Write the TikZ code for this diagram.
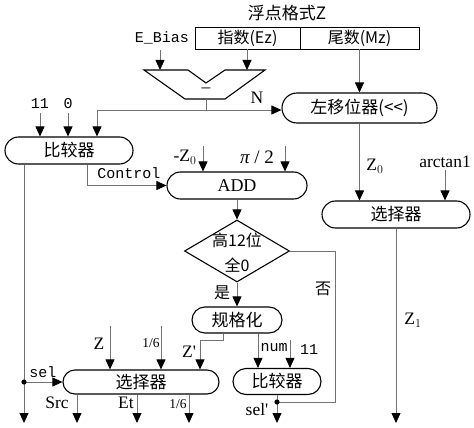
\documentclass[tikz,border=0pt]{standalone}
\usepackage{fontspec}
\setmainfont{Liberation Serif}
\newfontfamily\cjk{Noto Sans CJK SC}
\newfontfamily\mono{Liberation Mono}
\usetikzlibrary{arrows.meta,shapes.misc,shapes.geometric}
\begin{document}
\begin{tikzpicture}[x=1pt,y=-1pt,
  blk/.style={draw=black,line width=1.1pt,rounded rectangle,inner sep=0pt,
    font=\cjk\fontsize{17}{17}\selectfont},
  cell/.style={draw=black,line width=0.9pt,rectangle,inner sep=0pt,
    font=\cjk\fontsize{16}{16}\selectfont},
  con/.style={draw=black!55,line width=0.8pt},
  arr/.style={con,-{Triangle[length=10pt,width=9pt,black]}},
  lbl/.style={inner sep=0pt,font=\fontsize{17.5}{17.5}\selectfont},
  sml/.style={inner sep=0pt,font=\fontsize{13.5}{13.5}\selectfont},
  mlbl/.style={inner sep=0pt,font=\mono\fontsize{15}{15}\selectfont},
  clbl/.style={inner sep=0pt,font=\cjk\fontsize{16}{16}\selectfont},
  dotc/.style={fill=black}]
\useasboundingbox (0,0) rectangle (474,428);

% ---- top: format Z ----
\node[clbl,font=\cjk\fontsize{17}{17}\selectfont] (title) at (287,13) {浮点格式Z};
\node[cell,minimum width=105pt,minimum height=22pt] (ez) at (247.5,38) {指数(Ez)};
\node[cell,minimum width=119pt,minimum height=22pt] (mz) at (359.5,38) {尾数(Mz)};
\node[mlbl] (ebl) at (162,38) {E\_Bias};

% ---- subtractor ----
\draw[line width=1.1pt] (144,70) -- (188,70) -- (206,83) -- (225,70) -- (265,70)
  -- (225,99) -- (185,99) -- cycle;
\node[lbl] (minus) at (206,90) {–};
\coordinate (eb) at (160,50);
\coordinate (subL) at (160,70);
\coordinate (subR) at (247,70);
\coordinate (subB) at (206,99);
\coordinate (jn) at (206,110);
\coordinate (j1) at (97,110);

% ---- blocks ----
\node[blk,minimum width=155pt,minimum height=30pt] (shift) at (359.5,108) {左移位器(<<)};
\node[blk,minimum width=128pt,minimum height=27pt] (cmp1) at (69,150.5) {比较器};
\node[blk,minimum width=140pt,minimum height=27pt,font=\fontsize{18}{18}\selectfont] (add) at (237,185.5) {ADD};
\node[blk,minimum width=148pt,minimum height=27pt] (sel2) at (396,214.5) {选择器};
\node[draw=black,line width=1.1pt,diamond,inner sep=0pt,minimum width=105pt,minimum height=62pt] (dia) at (237,251) {};
\node[clbl,align=center,font=\cjk\fontsize{16}{25}\selectfont] (diat) at (237,253) {高12位\\全0};
\node[blk,minimum width=90pt,minimum height=26pt] (norm) at (237,320) {规格化};
\node[blk,minimum width=156pt,minimum height=24pt] (sel1) at (141,382) {选择器};
\node[blk,minimum width=88pt,minimum height=26pt] (cmp2) at (277,381.5) {比较器};

% ---- coordinates ----
\coordinate (in11) at (40,113);
\coordinate (in0) at (68,113);
\coordinate (lo) at (24,423);
\coordinate (sdot) at (24,382);
\coordinate (ctl) at (87,185.5);
\coordinate (mz0) at (203,146);
\coordinate (pi2) at (285,146);
\coordinate (nr) at (335,251);
\coordinate (nd) at (335,402);
\coordinate (zpa) at (223,340);
\coordinate (zpb) at (200,340);
\coordinate (numc) at (258,340);
\coordinate (in11b) at (290,340);
\coordinate (inz) at (110,326);
\coordinate (in16) at (161,326);
\coordinate (o1) at (77,423);
\coordinate (o2) at (137,423);
\coordinate (o3) at (189,423);
\coordinate (atn) at (445,170);

% ---- connectors ----
\draw[arr] (eb) -- (subL);
\draw[arr] (ez.south -| subR) -- (subR);
\draw[con] (subB) -- (jn);
\draw[arr] (jn) -- (j1) -- (cmp1.north -| j1);
\draw[arr] (jn) -- (jn -| shift.west);
\draw[arr] (in11) -- (cmp1.north -| in11);
\draw[arr] (in0) -- (cmp1.north -| in0);
\draw[arr] (cmp1.south -| lo) -- (lo);
\draw[arr] (sdot) -- (sel1.west);
\fill[dotc] (sdot) circle (2.6pt);
\draw[arr] (cmp1.south -| ctl) -- (ctl) -- (add.west);
\draw[arr] (mz0) -- (add.north -| mz0);
\draw[arr] (pi2) -- (add.north -| pi2);
\draw[arr] (add.south) -- (dia.north);
\draw[con] (dia.east) -- (nr) -- (nd) -- (cmp2.south |- nd);
\draw[arr] (cmp2.south) -- (cmp2.south |- lo);
\fill[dotc] (cmp2.south |- nd) circle (2.6pt);
\draw[arr] (dia.south) -- (norm.north);
\draw[arr] (norm.south -| zpa) -- (zpa) -- (zpb) -- (sel1.north -| zpb);
\draw[arr] (norm.south -| numc) -- (cmp2.north -| numc);
\draw[arr] (in11b) -- (cmp2.north -| in11b);
\draw[arr] (inz) -- (sel1.north -| inz);
\draw[arr] (in16) -- (sel1.north -| in16);
\draw[arr] (sel1.south -| o1) -- (o1);
\draw[arr] (sel1.south -| o2) -- (o2);
\draw[arr] (sel1.south -| o3) -- (o3);
\draw[arr] (mz.south) -- (shift.north);
\draw[arr] (shift.south) -- (shift.south |- sel2.north);
\draw[arr] (atn) -- (sel2.north -| atn);
\draw[arr] (sel2.south) -- (sel2.south |- lo);

% ---- labels ----
\node[mlbl] (l11) at (40,104) {11};
\node[mlbl] (l0) at (68,104) {0};
\node[lbl] (lN) at (257,98) {N};
\node[mlbl] (lctl) at (129,173) {Control};
\node[lbl] (lmz0) at (185,157) {-Z$_0$};
\node[lbl,font=\fontsize{19}{19}\selectfont] (lpi) at (257,157) {{\itshape π} / 2};
\node[lbl] (lz0) at (375,166) {Z$_0$};
\node[lbl] (latn) at (445,162) {arctan1};
\node[clbl] (lyes) at (222,293) {是};
\node[clbl] (lno) at (323,289) {否};
\node[lbl] (lzp) at (189,352) {Z\textquotesingle};
\node[mlbl] (lnum) at (274,348) {num};
\node[mlbl] (l11b) at (309,350) {11};
\node[lbl] (lz) at (99,344) {Z};
\node[sml] (l16a) at (151,343) {1/6};
\node[mlbl] (lsel) at (43,372) {sel};
\node[lbl] (lsrc) at (57,403) {Src};
\node[lbl] (let) at (126,403) {Et};
\node[sml] (l16b) at (178,404) {1/6};
\node[lbl] (lselp) at (257,410) {sel\textquotesingle};
\node[lbl] (lz1) at (413,320) {Z$_1$};
\end{tikzpicture}
\end{document}
